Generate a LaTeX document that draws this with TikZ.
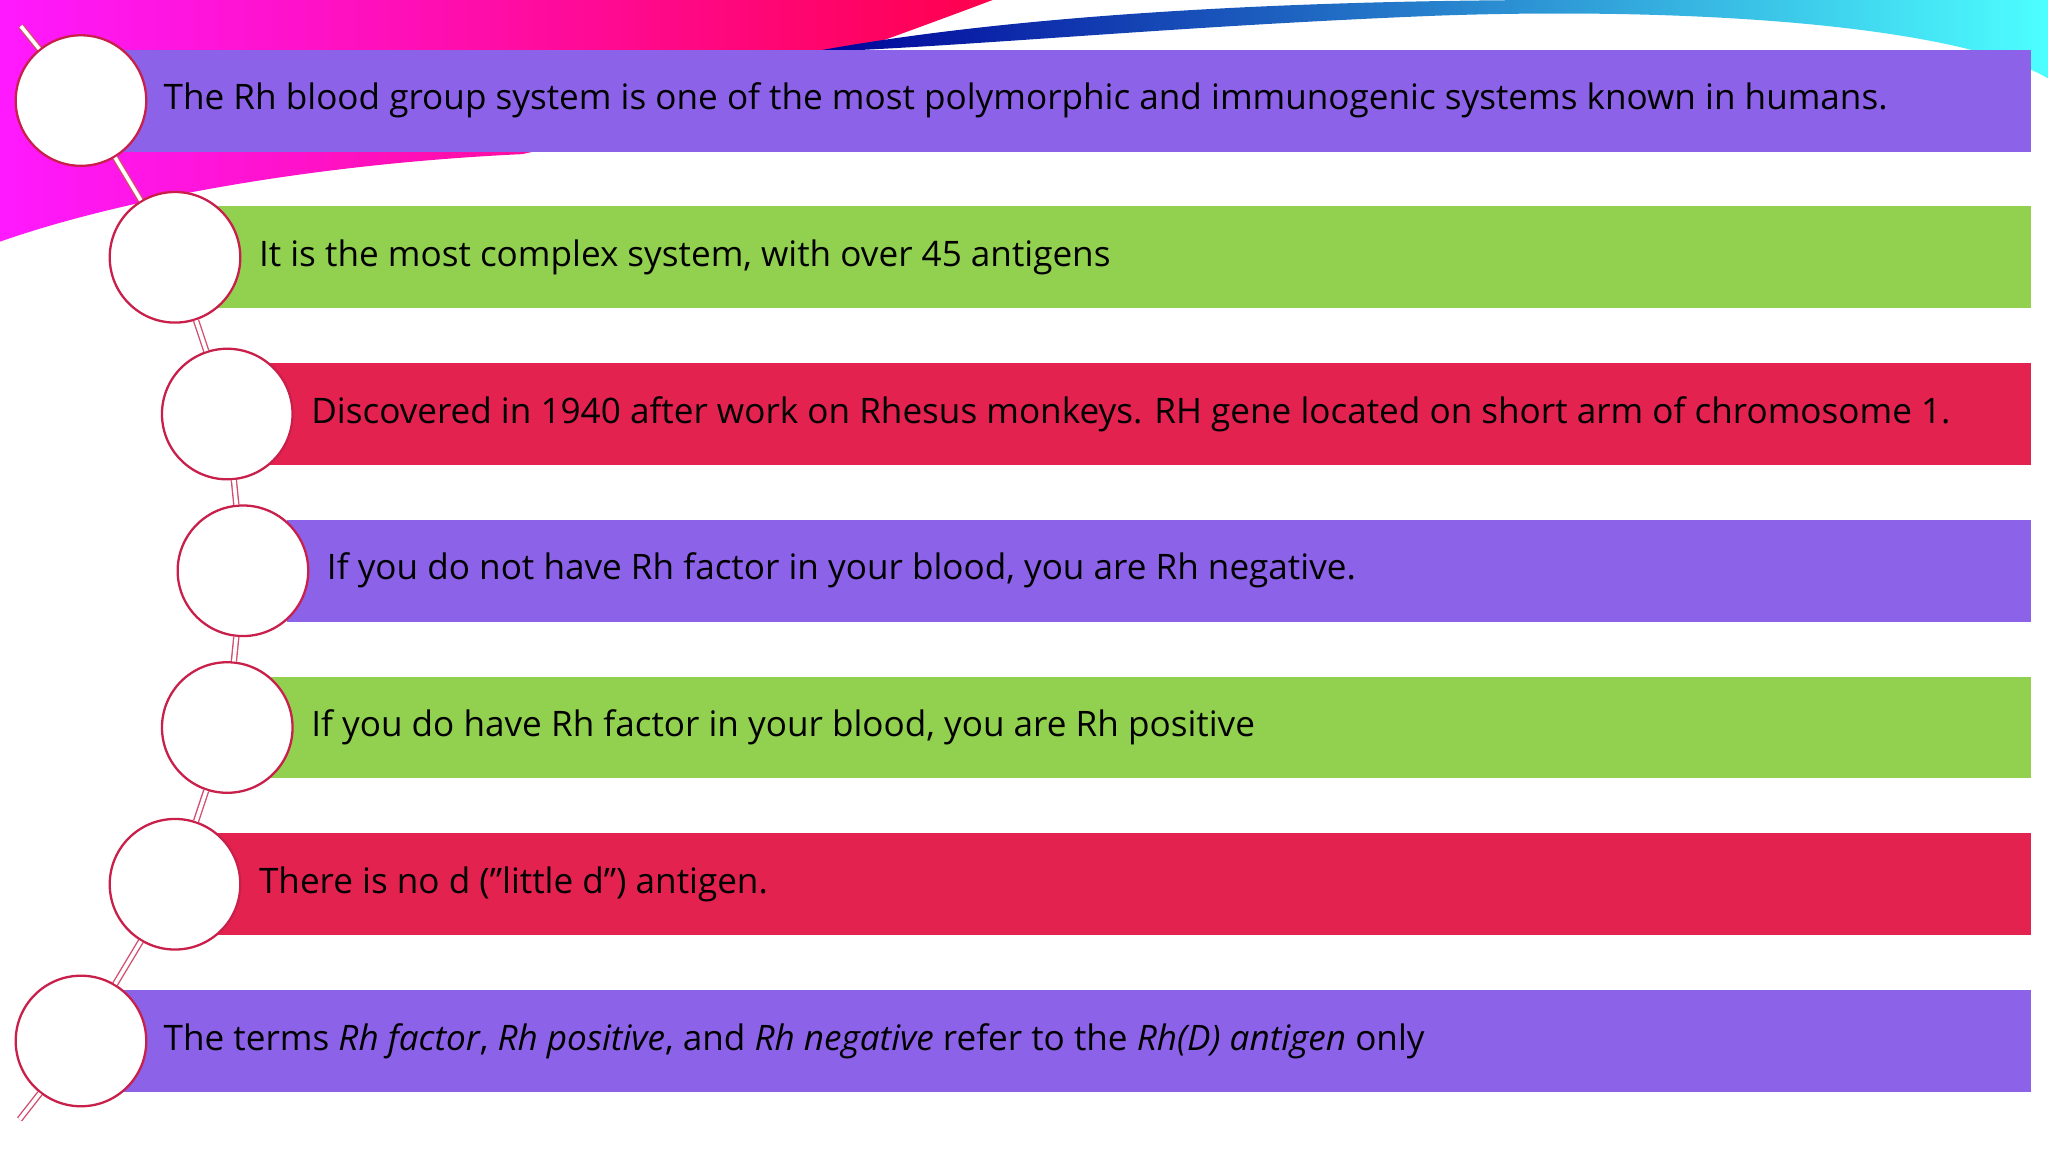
\documentclass[tikz,border=0pt]{standalone}
\usepackage{fontspec}
\setmainfont{Open Sans}
\definecolor{cpurple}{HTML}{8C62E8}
\definecolor{cgreen}{HTML}{92D050}
\definecolor{cred}{HTML}{E4224F}
\definecolor{cring}{HTML}{C8204A}
\begin{document}
\begin{tikzpicture}[x=0.02cm,y=-0.02cm,
  bar/.style={inner sep=0pt},
  ring/.style={circle,draw=cring,line width=1pt,fill=white,minimum size=2cm,inner sep=0pt},
  link/.style={draw=cring!80,double=white,line width=0.6pt,double distance=1.6pt},
  txt/.style={anchor=west,font=\fontsize{15.3}{18}\selectfont,inner sep=0pt}]
\useasboundingbox (0,0) rectangle (1568,882);
% swooshes
\shade[left color=magenta!90!white,right color=red!70!magenta] (0,0) -- (760,0) .. controls (600,60) and (480,100) .. (400,118) .. controls (250,125) and (100,150) .. (0,185) -- cycle;
\shade[left color=blue!60!black,right color=cyan!70!white] (620,40) .. controls (780,10) and (1000,0) .. (1200,0) -- (1568,0) -- (1568,60) .. controls (1500,20) and (1300,5) .. (1100,12) .. controls (900,20) and (750,35) .. (620,40) -- cycle;
% bars
\foreach \y/\x/\c [count=\i] in {38/95/cpurple,158/165/cgreen,278/205/cred,398/220/cpurple,518/205/cgreen,638/165/cred,758/95/cpurple}
  \fill[\c] (\x,\y) rectangle (1555,\y+78);
% rings
\node[ring] (c1) at (62,77) {};
\node[ring] (c2) at (134,197) {};
\node[ring] (c3) at (174,317) {};
\node[ring] (c4) at (186,437) {};
\node[ring] (c5) at (174,557) {};
\node[ring] (c6) at (134,677) {};
\node[ring] (c7) at (62,797) {};
\coordinate (t0) at (16,20);
\coordinate (t8) at (15,857);
\draw[link] (t0) -- (c1);
\draw[link] (c1) -- (c2);
\draw[link] (c2) -- (c3);
\draw[link] (c3) -- (c4);
\draw[link] (c4) -- (c5);
\draw[link] (c5) -- (c6);
\draw[link] (c6) -- (c7);
\draw[link] (c7) -- (t8);
% texts
\node[txt] (l1) at (125,77) {The Rh blood group system is one of the most polymorphic and immunogenic systems known in humans.};
\node[txt] (l2) at (198,197) {It is the most complex system, with over 45 antigens};
\node[txt] (l3) at (238,317) {Discovered in 1940 after work on Rhesus monkeys. RH gene located on short arm of chromosome 1.};
\node[txt] (l4) at (250,437) {If you do not have Rh factor in your blood, you are Rh negative.};
\node[txt] (l5) at (238,557) {If you do have Rh factor in your blood, you are Rh positive};
\node[txt] (l6) at (198,677) {There is no d (\char34 little d\char34) antigen.};
\node[txt] (l7) at (125,797) {The terms \textit{Rh factor}, \textit{Rh positive}, and \textit{Rh negative} refer to the \textit{Rh(D) antigen} only};
\end{tikzpicture}
\end{document}
